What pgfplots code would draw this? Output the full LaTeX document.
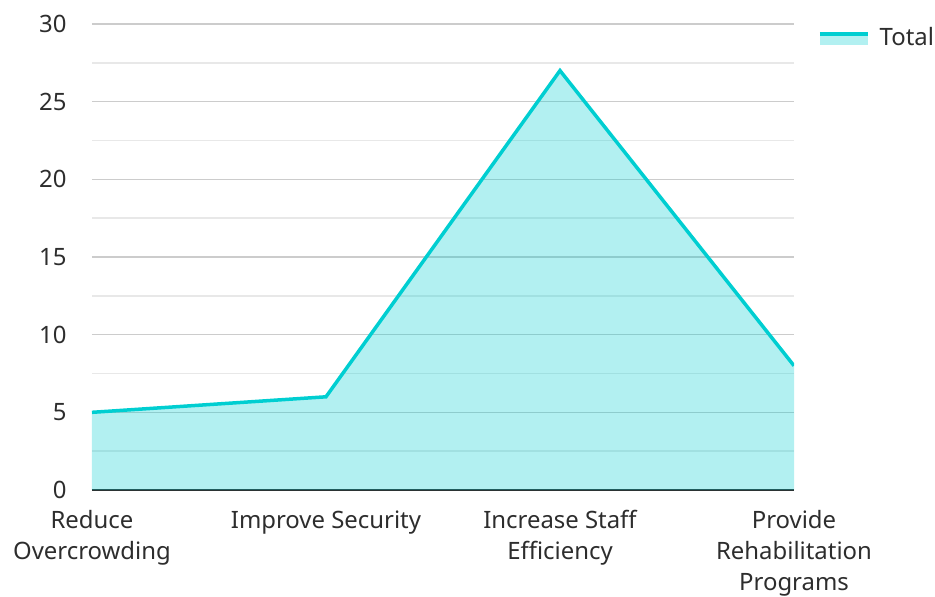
\documentclass[border=0pt]{standalone}
\usepackage{fontspec}
\setmainfont{Noto Sans}
\usepackage{pgfplots}
\pgfplotsset{compat=1.18}

\definecolor{cline}{RGB}{0,206,209}
\definecolor{gmaj}{RGB}{204,204,204}
\definecolor{gmin}{RGB}{232,232,232}
\definecolor{txt}{RGB}{45,45,45}

\begin{document}
\begin{tikzpicture}
\path[use as bounding box] (-92bp,-107bp) rectangle (843bp,490bp);
\begin{axis}[
  at={(0,0)}, anchor=south west,
  scale only axis, width=702bp, height=466bp,
  xmin=0, xmax=3, ymin=0, ymax=30,
  xtick=data,
  xticklabels={Reduce\\Overcrowding, Improve Security, Increase Staff\\Efficiency, Provide\\Rehabilitation\\Programs},
  x tick label style={align=center, font=\fontsize{24}{31}\selectfont, text=txt, yshift=-17bp},
  ytick={0,5,...,30},
  minor y tick num=1,
  y tick label style={font=\fontsize{24}{28}\selectfont, text=txt, xshift=-22bp},
  /pgf/number format/assume math mode=true,
  ymajorgrids, yminorgrids,
  major grid style={gmaj, line width=1.5bp},
  minor grid style={gmin, line width=1.5bp},
  major tick length=0pt, minor tick length=0pt,
  axis x line*=bottom, axis y line*=left,
  y axis line style={draw=none},
  x axis line style={txt, line width=2bp, -},
  legend style={at={(axis description cs:1,1)}, anchor=north west, xshift=21bp, yshift=1bp,
    draw=none, fill=none, font=\fontsize{24}{28}\selectfont, text=txt},
  legend cell align=left,
  legend image code/.code={
    \fill[draw=none, fill=cline, fill opacity=0.3] (0bp,-8bp) rectangle (48bp,3bp);
    \draw[cline, line width=3.5bp, fill=none] (0bp,3bp) -- (48bp,3bp);
    \path (56bp,0bp);
  },
]
\addplot[draw=none, fill=cline, fill opacity=0.3, forget plot]
  coordinates {(0,5) (1,6) (2,27) (3,8)} \closedcycle;
\addplot[cline, line width=3.5bp]
  coordinates {(0,5) (1,6) (2,27) (3,8)};
\addlegendentry{Total}
\end{axis}
\end{tikzpicture}
\end{document}
